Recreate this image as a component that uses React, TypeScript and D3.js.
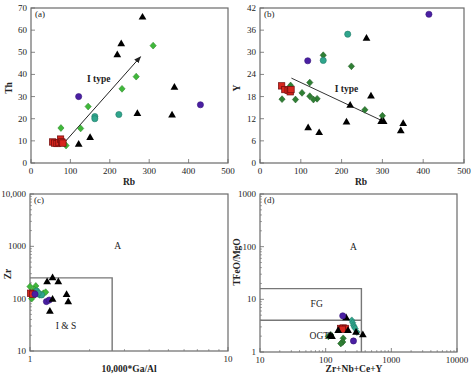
import React from "react";
import * as d3 from "d3";

// ---------- Data ----------
// Panel (a): Rb vs Th
const aTri = [[283, 66], [229, 54], [219, 49], [364, 34.3], [270, 22.5], [358, 21.8], [150, 11.6], [121, 8.6]];
const aGreen = [[310, 53], [267, 39], [231, 33.5], [145, 25.5], [126, 15.6], [76, 15.8], [89, 7.9]];
const aTeal = [[162, 21], [162, 20], [223, 21.9]];
const aPurple = [[121, 30], [430, 26.3]];
const aRed = [[55, 9.5], [60, 9], [66, 8.8], [71, 9.2], [75, 10.8], [78, 9.5], [81, 9]];
const aArrow = [[86, 9.5], [278, 48]];
const aXTicks = [0, 100, 200, 300, 400, 500];
const aYTicks = [0, 10, 20, 30, 40, 50, 60, 70];

// Panel (b): Rb vs Y
const bTri = [[261, 33.9], [272, 18.2], [221, 15.7], [297, 11.3], [303, 11.3], [212, 11.2], [351, 10.8], [345, 8.8], [118, 9.6], [145, 8.3]];
const bGreen = [[155, 29.2], [224, 26.2], [122, 21.8], [75, 21], [103, 19], [122, 18.1], [140, 17.4], [131, 17.2], [54, 17.3], [87, 17.2], [257, 14.4], [300, 12.8]];
const bTeal = [[215, 34.9], [155, 27.8]];
const bPurple = [[117, 27.7], [414, 40.3]];
const bRed = [[53, 20.9], [61, 19.9], [69, 19.7], [74, 19.3], [76, 19.9]];
const bLine = [[77, 23], [308, 11]];
const bXTicks = [0, 100, 200, 300, 400, 500];
const bYTicks = [0, 6, 12, 18, 24, 30, 36, 42];

// Panel (c): 10000*Ga/Al vs Zr
const cTri = [[1.30, 255], [1.22, 212], [1.39, 212], [1.53, 122], [1.56, 88], [1.30, 99], [1.26, 58]];
const cGreen = [[1.0, 170], [1.07, 175], [1.02, 100], [1.09, 137], [1.17, 127], [1.2, 133], [1.12, 118], [1.05, 150]];
const cTeal = [[1.08, 140], [1.115, 121], [1.145, 118], [1.1, 128]];
const cRed = [[1.008, 127], [1.03, 122]];
const cPurple = [[1.06, 122], [1.21, 88], [1.25, 94]];
const cBox = [2.6, 250];
const cXTicks = [1, 10];
const cXLabels = ["1", "10"];
const cYTicks = [10, 100, 1000, 10000];
const cYLabels = ["10", "100", "1000", "10,000"];

// Panel (d): Zr+Nb+Ce+Y vs TFeO/MgO
const dGreen = [[185, 1.82], [182, 1.55], [170, 1.45], [110, 1.98], [120, 2.1]];
const dTeal = [[250, 4.0], [258, 3.6], [265, 3.23], [272, 3.0], [281, 2.8], [299, 2.4]];
const dPurple = [[182, 4.86], [265, 1.62]];
const dRed = [[170, 2.8], [185, 2.85], [200, 2.8], [180, 2.7]];
const dTri = [[205, 4.5], [155, 2.6], [219, 2.6], [368, 2.15], [117, 2.08], [125, 2.0], [290, 2.4]];
const dBoxX = 350;
const dBoxTop = 16;
const dBoxMid = 4;
const dXTicks = [10, 100, 1000, 10000];
const dXLabels = ["10", "100", "1000", "10000"];
const dYTicks = [1, 10, 100, 1000];
const dYLabels = ["1", "10", "100", "1000"];

// ---------- Styles ----------
const FONT = "Liberation Serif, Times New Roman, DejaVu Serif, serif";
const FRAME = "#6a6a6a";
const C_RED = "#d7261e";
const C_RED_S = "#6e0b0b";
const C_GREEN_L = "#3fb83a";
const C_GREEN_D = "#2f7f34";
const C_TEAL = "#2fa58c";
const C_PURPLE = "#4a1fa3";

type Pt = number[];

const Tri = ({ x, y }: { x: number; y: number }) => (
  <path d={d3.symbol(d3.symbolTriangle, 26)() || ""} transform={`translate(${x},${y + 0.5})`} fill="#000" />
);
const Circ = ({ x, y, c }: { x: number; y: number; c: string }) => (
  <circle cx={x} cy={y} r={3.1} fill={c} stroke={d3.color(c)!.darker(0.8).toString()} strokeWidth={0.6} />
);
const Dia = ({ x, y, c }: { x: number; y: number; c: string }) => (
  <path d={`M${x},${y - 3.4}L${x + 3.1},${y}L${x},${y + 3.4}L${x - 3.1},${y}Z`} fill={c} stroke={d3.color(c)!.darker(0.8).toString()} strokeWidth={0.6} />
);
const Sq = ({ x, y }: { x: number; y: number }) => (
  <rect x={x - 3.2} y={y - 3.2} width={6.4} height={6.4} fill={C_RED} stroke={C_RED_S} strokeWidth={0.7} />
);

function Panel(props: {
  box: { x0: number; x1: number; y0: number; y1: number };
  log: boolean;
  xDom: number[];
  yDom: number[];
  xTicks: number[];
  yTicks: number[];
  xLabels?: string[];
  yLabels?: string[];
  xTitle: string;
  yTitle: string;
  xTitlePos: number[];
  yTitlePos: number[];
  tag: string;
  children: (sx: any, sy: any) => React.ReactNode;
}) {
  const { box, log } = props;
  const sx: any = (log ? d3.scaleLog() : d3.scaleLinear()).domain(props.xDom).range([box.x0, box.x1]);
  const sy: any = (log ? d3.scaleLog() : d3.scaleLinear()).domain(props.yDom).range([box.y1, box.y0]);
  const minorX: number[] = [];
  const minorY: number[] = [];
  if (log) {
    const mk = (dom: number[], arr: number[]) => {
      for (let d = dom[0]; d < dom[1]; d *= 10) for (let k = 2; k <= 9; k++) arr.push(d * k);
    };
    mk(props.xDom, minorX);
    mk(props.yDom, minorY);
  }
  return (
    <g>
      <rect x={box.x0} y={box.y0} width={box.x1 - box.x0} height={box.y1 - box.y0} fill="#fff" stroke={FRAME} strokeWidth={1.2} />
      {props.xTicks.map((t, i) => (
        <g key={"xt" + i}>
          <line x1={sx(t)} x2={sx(t)} y1={box.y1} y2={box.y1 - 4} stroke={FRAME} strokeWidth={0.8} />
          <text x={sx(t)} y={box.y1 + 11} textAnchor="middle" fontSize={9} fontFamily={FONT} fill="#222">
            {props.xLabels ? props.xLabels[i] : String(t)}
          </text>
        </g>
      ))}
      {props.yTicks.map((t, i) => (
        <g key={"yt" + i}>
          <line x1={box.x0} x2={box.x0 + 4} y1={sy(t)} y2={sy(t)} stroke={FRAME} strokeWidth={0.8} />
          <text x={box.x0 - 4} y={sy(t) + 3} textAnchor="end" fontSize={9} fontFamily={FONT} fill="#222">
            {props.yLabels ? props.yLabels[i] : String(t)}
          </text>
        </g>
      ))}
      {minorX.map((t, i) => (
        <line key={"mx" + i} x1={sx(t)} x2={sx(t)} y1={box.y1} y2={box.y1 - 2} stroke={FRAME} strokeWidth={0.6} />
      ))}
      {minorY.map((t, i) => (
        <line key={"my" + i} x1={box.x0} x2={box.x0 + 2} y1={sy(t)} y2={sy(t)} stroke={FRAME} strokeWidth={0.6} />
      ))}
      <text x={props.xTitlePos[0]} y={props.xTitlePos[1]} textAnchor="middle" fontSize={9.5} fontWeight="bold" fontFamily={FONT} fill="#222">
        {props.xTitle}
      </text>
      <text
        transform={`translate(${props.yTitlePos[0]},${props.yTitlePos[1]}) rotate(-90)`}
        textAnchor="middle"
        fontSize={9.5}
        fontWeight="bold"
        fontFamily={FONT}
        fill="#222"
      >
        {props.yTitle}
      </text>
      <text x={box.x0 + 4} y={box.y0 + 9} fontSize={9} fontFamily={FONT} fill="#222">
        {props.tag}
      </text>
      {props.children(sx, sy)}
    </g>
  );
}

export default function App() {
  return (
    <div style={{ position: "fixed", left: 0, top: 0 }}>
      <svg width={474} height={375} style={{ display: "block", background: "#fff" }}>
        <defs>
          <marker id="ah" viewBox="0 0 10 10" refX="9" refY="5" markerWidth="7" markerHeight="7" orient="auto">
            <path d="M0,1 L10,5 L0,9 Z" fill="#222" />
          </marker>
        </defs>
        {/* (a) */}
        <Panel
          box={{ x0: 31, x1: 228, y0: 8, y1: 163 }}
          log={false}
          xDom={[0, 500]}
          yDom={[0, 70]}
          xTicks={aXTicks}
          yTicks={aYTicks}
          xTitle="Rb"
          yTitle="Th"
          xTitlePos={[129, 185]}
          yTitlePos={[12, 88]}
          tag="(a)"
        >
          {(sx, sy) => (
            <g>
              <line x1={sx(aArrow[0][0])} y1={sy(aArrow[0][1])} x2={sx(aArrow[1][0])} y2={sy(aArrow[1][1])} stroke="#222" strokeWidth={1} markerEnd="url(#ah)" />
              <text x={sx(172)} y={sy(36.5)} fontSize={9.5} fontWeight="bold" fontFamily={FONT} textAnchor="middle" fill="#222">I type</text>
              {aTri.map((p: Pt, i) => <Tri key={"t" + i} x={sx(p[0])} y={sy(p[1])} />)}
              {aGreen.map((p: Pt, i) => <Dia key={"g" + i} x={sx(p[0])} y={sy(p[1])} c={C_GREEN_L} />)}
              {aTeal.map((p: Pt, i) => <Circ key={"c" + i} x={sx(p[0])} y={sy(p[1])} c={C_TEAL} />)}
              {aPurple.map((p: Pt, i) => <Circ key={"p" + i} x={sx(p[0])} y={sy(p[1])} c={C_PURPLE} />)}
              {aRed.map((p: Pt, i) => <Sq key={"r" + i} x={sx(p[0])} y={sy(p[1])} />)}
            </g>
          )}
        </Panel>
        {/* (b) */}
        <Panel
          box={{ x0: 260, x1: 464, y0: 8, y1: 163 }}
          log={false}
          xDom={[0, 500]}
          yDom={[0, 42]}
          xTicks={bXTicks}
          yTicks={bYTicks}
          xTitle="Rb"
          yTitle="Y"
          xTitlePos={[361, 185]}
          yTitlePos={[240, 88]}
          tag="(b)"
        >
          {(sx, sy) => (
            <g>
              <line x1={sx(bLine[0][0])} y1={sy(bLine[0][1])} x2={sx(bLine[1][0])} y2={sy(bLine[1][1])} stroke="#333" strokeWidth={1} />
              <text x={sx(212)} y={sy(19.3)} fontSize={9.5} fontWeight="bold" fontFamily={FONT} textAnchor="middle" fill="#222">I type</text>
              {bGreen.map((p: Pt, i) => <Dia key={"g" + i} x={sx(p[0])} y={sy(p[1])} c={C_GREEN_D} />)}
              {bTeal.map((p: Pt, i) => <Circ key={"c" + i} x={sx(p[0])} y={sy(p[1])} c={C_TEAL} />)}
              {bPurple.map((p: Pt, i) => <Circ key={"p" + i} x={sx(p[0])} y={sy(p[1])} c={C_PURPLE} />)}
              {bRed.map((p: Pt, i) => <Sq key={"r" + i} x={sx(p[0])} y={sy(p[1])} />)}
              {bTri.map((p: Pt, i) => <Tri key={"t" + i} x={sx(p[0])} y={sy(p[1])} />)}
            </g>
          )}
        </Panel>
        {/* (c) */}
        <Panel
          box={{ x0: 30, x1: 228, y0: 194, y1: 351 }}
          log={true}
          xDom={[1, 10]}
          yDom={[10, 10000]}
          xTicks={cXTicks}
          yTicks={cYTicks}
          xLabels={cXLabels}
          yLabels={cYLabels}
          xTitle="10,000*Ga/Al"
          yTitle="Zr"
          xTitlePos={[129, 372]}
          yTitlePos={[11, 274]}
          tag="(c)"
        >
          {(sx, sy) => (
            <g>
              <path
                d={`M${sx(1)},${sy(cBox[1])}H${sx(cBox[0])}V${sy(10)}`}
                fill="none"
                stroke="#777"
                strokeWidth={1.4}
              />
              <text x={sx(2.77)} y={sy(1000) + 3} fontSize={9.5} fontFamily={FONT} textAnchor="middle" fill="#222">A</text>
              <text x={sx(1.52)} y={sy(30) + 3} fontSize={9.5} fontFamily={FONT} textAnchor="middle" fill="#222">I &amp; S</text>
              {cGreen.map((p: Pt, i) => <Dia key={"g" + i} x={sx(p[0])} y={sy(p[1])} c={C_GREEN_L} />)}
              {cTeal.map((p: Pt, i) => <Circ key={"c" + i} x={sx(p[0])} y={sy(p[1])} c={C_TEAL} />)}
              {cRed.map((p: Pt, i) => <Sq key={"r" + i} x={sx(p[0])} y={sy(p[1])} />)}
              {cPurple.map((p: Pt, i) => <Circ key={"p" + i} x={sx(p[0])} y={sy(p[1])} c={C_PURPLE} />)}
              {cTri.map((p: Pt, i) => <Tri key={"t" + i} x={sx(p[0])} y={sy(p[1])} />)}
            </g>
          )}
        </Panel>
        {/* (d) */}
        <Panel
          box={{ x0: 260, x1: 457, y0: 194, y1: 352 }}
          log={true}
          xDom={[10, 10000]}
          yDom={[1, 1000]}
          xTicks={dXTicks}
          yTicks={dYTicks}
          xLabels={dXLabels}
          yLabels={dYLabels}
          xTitle="Zr+Nb+Ce+Y"
          yTitle="TFeO/MgO"
          xTitlePos={[354, 372]}
          yTitlePos={[240, 262]}
          tag="(d)"
        >
          {(sx, sy) => (
            <g>
              <path
                d={`M${sx(10)},${sy(dBoxTop)}H${sx(dBoxX)}V${sy(1)}M${sx(10)},${sy(dBoxMid)}H${sx(dBoxX)}`}
                fill="none"
                stroke="#777"
                strokeWidth={1.4}
              />
              <text x={sx(265)} y={sy(100) + 3} fontSize={9.5} fontFamily={FONT} textAnchor="middle" fill="#222">A</text>
              <text x={sx(73)} y={sy(8.1) + 3} fontSize={9.5} fontFamily={FONT} textAnchor="middle" fill="#222">FG</text>
              <text x={sx(80)} y={sy(2) + 3} fontSize={9.5} fontFamily={FONT} textAnchor="middle" fill="#222">OGT</text>
              {dGreen.map((p: Pt, i) => <Dia key={"g" + i} x={sx(p[0])} y={sy(p[1])} c={C_GREEN_D} />)}
              {dTeal.map((p: Pt, i) => <Dia key={"c" + i} x={sx(p[0])} y={sy(p[1])} c={C_TEAL} />)}
              {dRed.map((p: Pt, i) => <Sq key={"r" + i} x={sx(p[0])} y={sy(p[1])} />)}
              {dTri.map((p: Pt, i) => <Tri key={"t" + i} x={sx(p[0])} y={sy(p[1])} />)}
              {dPurple.map((p: Pt, i) => <Circ key={"p" + i} x={sx(p[0])} y={sy(p[1])} c={C_PURPLE} />)}
            </g>
          )}
        </Panel>
      </svg>
    </div>
  );
}
